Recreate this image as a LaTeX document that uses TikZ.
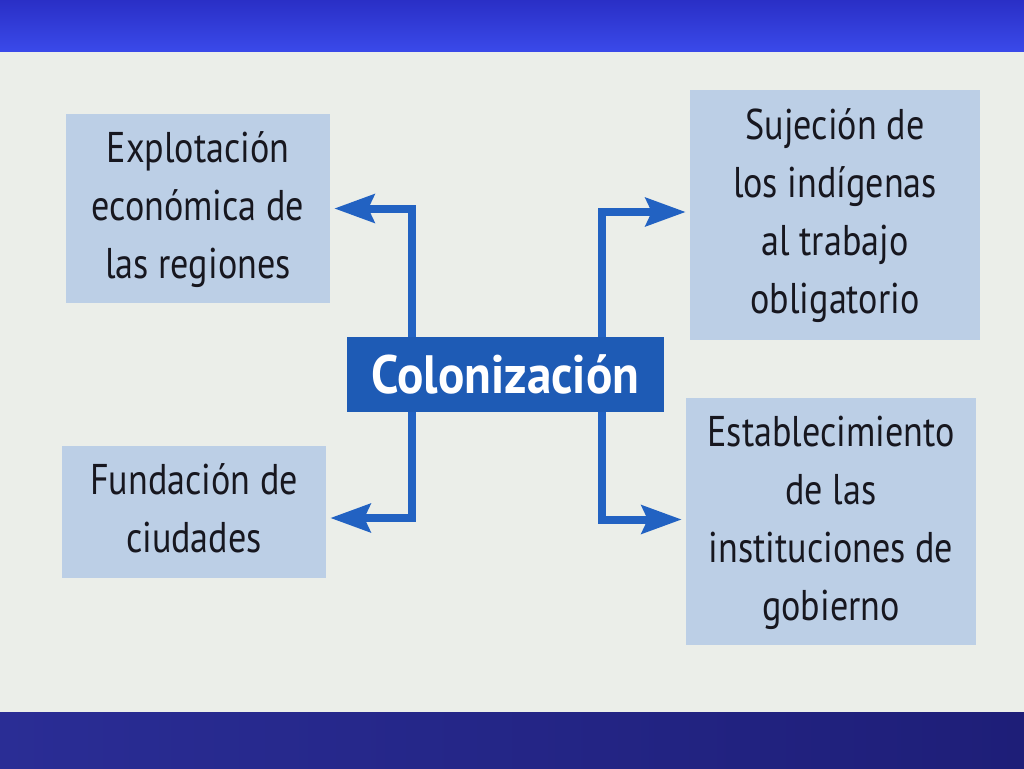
\documentclass[tikz,border=0pt]{standalone}
\usepackage{fontspec}
\setmainfont{PT Sans}
\usepackage{graphicx}
\usetikzlibrary{arrows.meta, positioning, shadings}

\definecolor{paper}{HTML}{EBEEE9}
\definecolor{boxblue}{HTML}{BCCFE6}
\definecolor{darkblue}{HTML}{1E5BB5}
\definecolor{arrowblue}{HTML}{2262C2}
\definecolor{inktext}{HTML}{17171F}
\definecolor{bandtop}{HTML}{2A2FC6}
\definecolor{bandbot}{HTML}{3A4AEA}
\definecolor{footA}{HTML}{2A2D95}
\definecolor{footB}{HTML}{1E1E78}

% narrow lines of text for the boxes
\newcommand{\boxlines}[1]{\scalebox{0.84}[1]{\begin{tabular}{@{}c@{}}#1\end{tabular}}}

\begin{document}
\begin{tikzpicture}[
    x=1pt, y=-1pt,
    % light blue boxes
    topic/.style={fill=boxblue, inner sep=0pt, text=inktext,
                  font=\fontsize{43}{58}\selectfont},
    % central box
    hub/.style={fill=darkblue, inner sep=0pt, text=white,
                font=\fontsize{54}{60}\selectfont\bfseries},
    % connector
    arrow/.style={-{Stealth[length=40pt, width=28pt, inset=6pt]}, arrowblue,
                  line width=8pt, line join=miter, shorten >=4pt}
]
\useasboundingbox (0,0) rectangle (1024,768);

% === BACKGROUND ===
\fill[paper] (0,52) rectangle (1024,712);
\shade[top color=bandtop, bottom color=bandbot] (0,0) rectangle (1024,52);
\shade[left color=footA, right color=footB] (0,712) rectangle (1024,768);

% === NODES ===

% Colonizacion in the middle
\node[hub, minimum width=317pt, minimum height=75pt] (colon) at (505.5,374.5)
    {\scalebox{0.91}[1]{Colonizaci\'on}};

% left column
\node[topic, minimum width=264pt, minimum height=189pt] (explot) at (198,208.5)
    {\boxlines{Explotaci\'on\\econ\'omica de\\las regiones}};
\node[topic, minimum width=264pt, minimum height=132pt] (fund) at (194,512)
    {\boxlines{Fundaci\'on de\\ciudades}};

% right column
\node[topic, minimum width=290pt, minimum height=250pt] (sujec) at (835,215)
    {\boxlines{Sujeci\'on de\\los ind\'igenas\\al trabajo\\obligatorio}};
\node[topic, minimum width=290pt, minimum height=247pt] (establ) at (831,521.5)
    {\boxlines{Establecimiento\\de las\\instituciones de\\gobierno}};

% === ARROWS ===

% up and left
\draw[arrow] ([xshift=65pt]colon.north west) |- ([yshift=0pt]explot.east);
% down and left
\draw[arrow] ([xshift=65pt]colon.south west) |- ([yshift=-6pt]fund.east);
% up and right
\draw[arrow] ([xshift=-62pt]colon.north east) |- ([yshift=3pt]sujec.west);
% down and right
\draw[arrow] ([xshift=-62pt]colon.south east) |- ([yshift=2pt]establ.west);

\end{tikzpicture}
\end{document}
